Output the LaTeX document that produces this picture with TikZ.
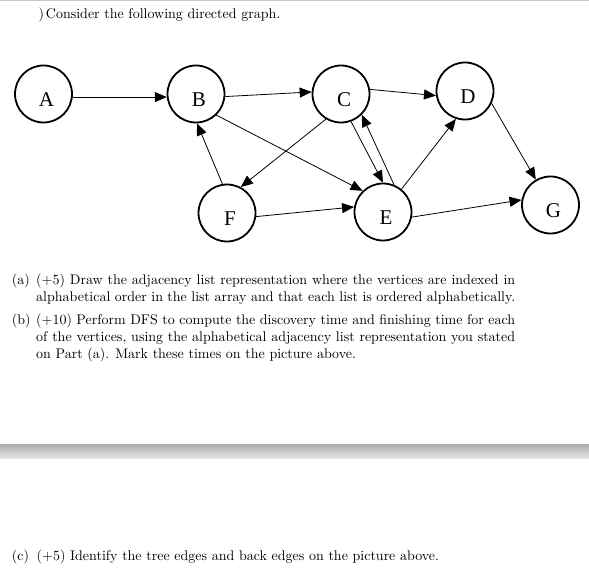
\documentclass[tikz,border=0pt]{standalone}
\usepackage{fontspec}
\setmainfont{lmroman10-regular}[Extension=.otf]
\newfontfamily\graphfont{Liberation Serif}
\usetikzlibrary{arrows.meta}
\definecolor{bandtop}{HTML}{ABABAB}
\definecolor{bandbot}{HTML}{E6E6E6}
\definecolor{rulegray}{HTML}{C6C6C6}
\begin{document}
\begin{tikzpicture}[x=1pt,y=-1pt,
  vertex/.style={circle, draw, line width=1.8pt, minimum size=57pt, inner sep=0pt},
  vlab/.style={xshift=3pt, yshift=-6pt, inner sep=0pt, font=\graphfont\fontsize{21}{21}\selectfont},
  edge/.style={line width=0.8pt, -{Triangle[length=12pt,width=10pt]}},
  body/.style={anchor=base west, inner sep=0pt, font=\fontsize{14}{16.8}\selectfont}]
\useasboundingbox (0,0) rectangle (589,577);
\fill[white] (0,0) rectangle (589,577);
% top rule and band (darker at its top edge, fading lighter downwards)
\fill[rulegray] (0,0) rectangle (589,1.5);
\foreach \i in {0,...,14}{
  \pgfmathtruncatemacro{\pc}{100-\i*100/14}
  \fill[bandtop!\pc!bandbot] (0,444+\i) rectangle (589,445.05+\i);
}
% header
\node[body] (head) at (38.3,19) {)\hspace{2pt}Consider the following directed graph.};
% vertices
\node[vertex, label={[vlab]center:A}] (A) at (43.5,94) {};
\node[vertex, label={[vlab]center:B}] (B) at (196,94) {};
\node[vertex, label={[vlab]center:C}] (C) at (341,94) {};
\node[vertex, label={[vlab]center:D}] (D) at (465,91) {};
\node[vertex, label={[vlab]center:E}] (E) at (383,212) {};
\node[vertex, label={[vlab]center:F}] (F) at (227,213) {};
\node[vertex, label={[vlab]center:G}] (G) at (550.5,205) {};
% edges
\draw[edge] (A.-6) -- (B.186);
\draw[edge] (B.-5.5) -- (C.176);
\draw[edge] (B.-46) -- (E.134);
\draw[edge] (C.-121) -- (F.62.5);
\draw[edge] (F.99) -- (B.-88);
\draw[edge] (F.-7.6) -- (E.170.5);
\draw[edge] (C.9) -- (D.189.5);
\draw[edge] (C.-70) -- (E.90);
\draw[edge] (E.68) -- (C.-45);
\draw[edge] (E.51.6) -- (D.-108);
\draw[edge] (D.-25.6) -- (G.120);
\draw[edge] (E.-10) -- (G.170);
% questions
\node[body] (la) at (11.7,285) {(a)};
\node[body] (a1) at (36,285) {\makebox[479pt][s]{(+5) Draw the adjacency list representation where the vertices are indexed in}};
\node[body] (a2) at (36,301.8) {\makebox[479pt][s]{alphabetical order in the list array and that each list is ordered alphabetically.}};
\node[body] (lb) at (11.7,325) {(b)};
\node[body] (b1) at (36,325) {\makebox[479pt][s]{(+10) Perform DFS to compute the discovery time and finishing time for each}};
\node[body] (b2) at (36,341.8) {\makebox[479pt][s]{of the vertices, using the alphabetical adjacency list representation you stated}};
\node[body] (b3) at (36,358.6) {on Part (a). Mark these times on the picture above.};
\node[body] (lc) at (11.7,560) {(c)};
\node[body] (c1) at (36.5,560) {(+5) Identify the tree edges and back edges on the picture above.};
\end{tikzpicture}
\end{document}
